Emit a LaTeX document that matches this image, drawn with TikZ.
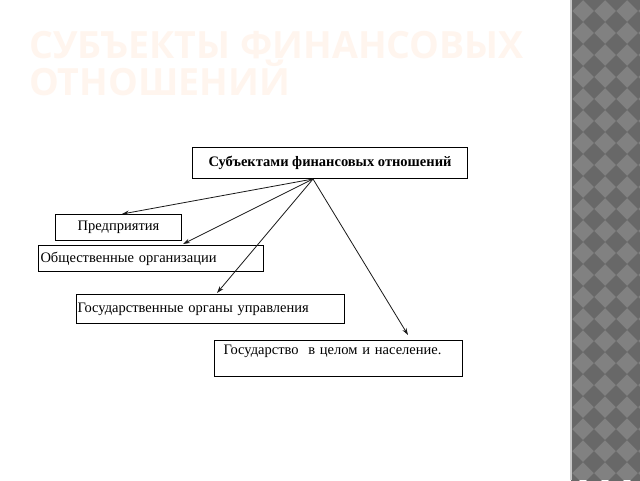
\documentclass[tikz,border=0pt]{standalone}
\usepackage{fontspec}
\setmainfont{Liberation Serif}
\newfontfamily\titlefont{Open Sans}
\usetikzlibrary{calc,arrows.meta}
\definecolor{titlecol}{HTML}{FFF5EE}
\definecolor{stripdark}{HTML}{686868}
\definecolor{striplight}{HTML}{818181}
\definecolor{stripedge}{HTML}{C8C8C8}
\tikzset{
  box/.style={draw=black, line width=1pt, inner sep=0pt, font=\fontsize{14.5}{16}\selectfont, anchor=north west},
  conn/.style={-{Stealth[length=7pt,width=4.5pt]}, line width=0.8pt, black!90},
}
\begin{document}
\begin{tikzpicture}[x=1pt,y=-1pt]
\useasboundingbox (0,0) rectangle (640,480);
\fill[white] (0,0) rectangle (640,480);
% right strip
\fill[striplight] (571,0) rectangle (640,480);
\begin{scope}
\clip (571,0) rectangle (640,480);
\foreach \m in {0,...,4}{
  \foreach \n in {0,...,23}{
    \fill[stripdark] ({572+\m*22},{\n*22-11}) -- ++(11,11) -- ++(-11,11) -- ++(-11,-11) -- cycle;
  }
}
\end{scope}
\fill[stripedge] (569.5,0) rectangle (571.5,480);
% title
\node[anchor=north west, inner sep=0pt, text=titlecol, font=\titlefont\bfseries\fontsize{37.5}{37}\selectfont, align=left] (title) at (29,31) {СУБЪЕКТЫ ФИНАНСОВЫХ\\ОТНОШЕНИЙ};
% boxes
\node[box, minimum width=275pt, minimum height=31pt, font=\bfseries\fontsize{14.5}{16}\selectfont] (top) at (192,147) {Субъектами финансовых отношений};
\node[box, minimum width=126pt, minimum height=26pt] (b1) at (55,214) {Предприятия};
\node[box, minimum width=225pt, minimum height=26pt, text width=221pt, align=left, inner xsep=2pt] (b2) at (38,245) {Общественные организации};
\node[box, minimum width=268pt, minimum height=29pt, text width=266pt, align=left, inner xsep=1pt] (b3) at (76,294) {Государственные органы управления};
\node[box, minimum width=248pt, minimum height=36pt, text width=230pt, align=left, inner xsep=9pt, inner ysep=5pt, text height=9pt, text depth=17pt] (b4) at (214,340) {Государство\ \ в целом и население.};
% connectors
\coordinate (src) at ($(top.south west)+(121,0)$);
\coordinate (t1) at ($(b1.north west)+(67,0)$);
\coordinate (t2) at ($(b2.north west)+(145,-1)$);
\coordinate (t3) at ($(b3.north west)+(141,-1)$);
\coordinate (t4) at ($(b4.north west)+(194,-5)$);
\draw[conn] (src) -- (t1);
\draw[conn] (src) -- (t2);
\draw[conn] (src) -- (t3);
\draw[conn] (src) -- (t4);
\end{tikzpicture}
\end{document}
